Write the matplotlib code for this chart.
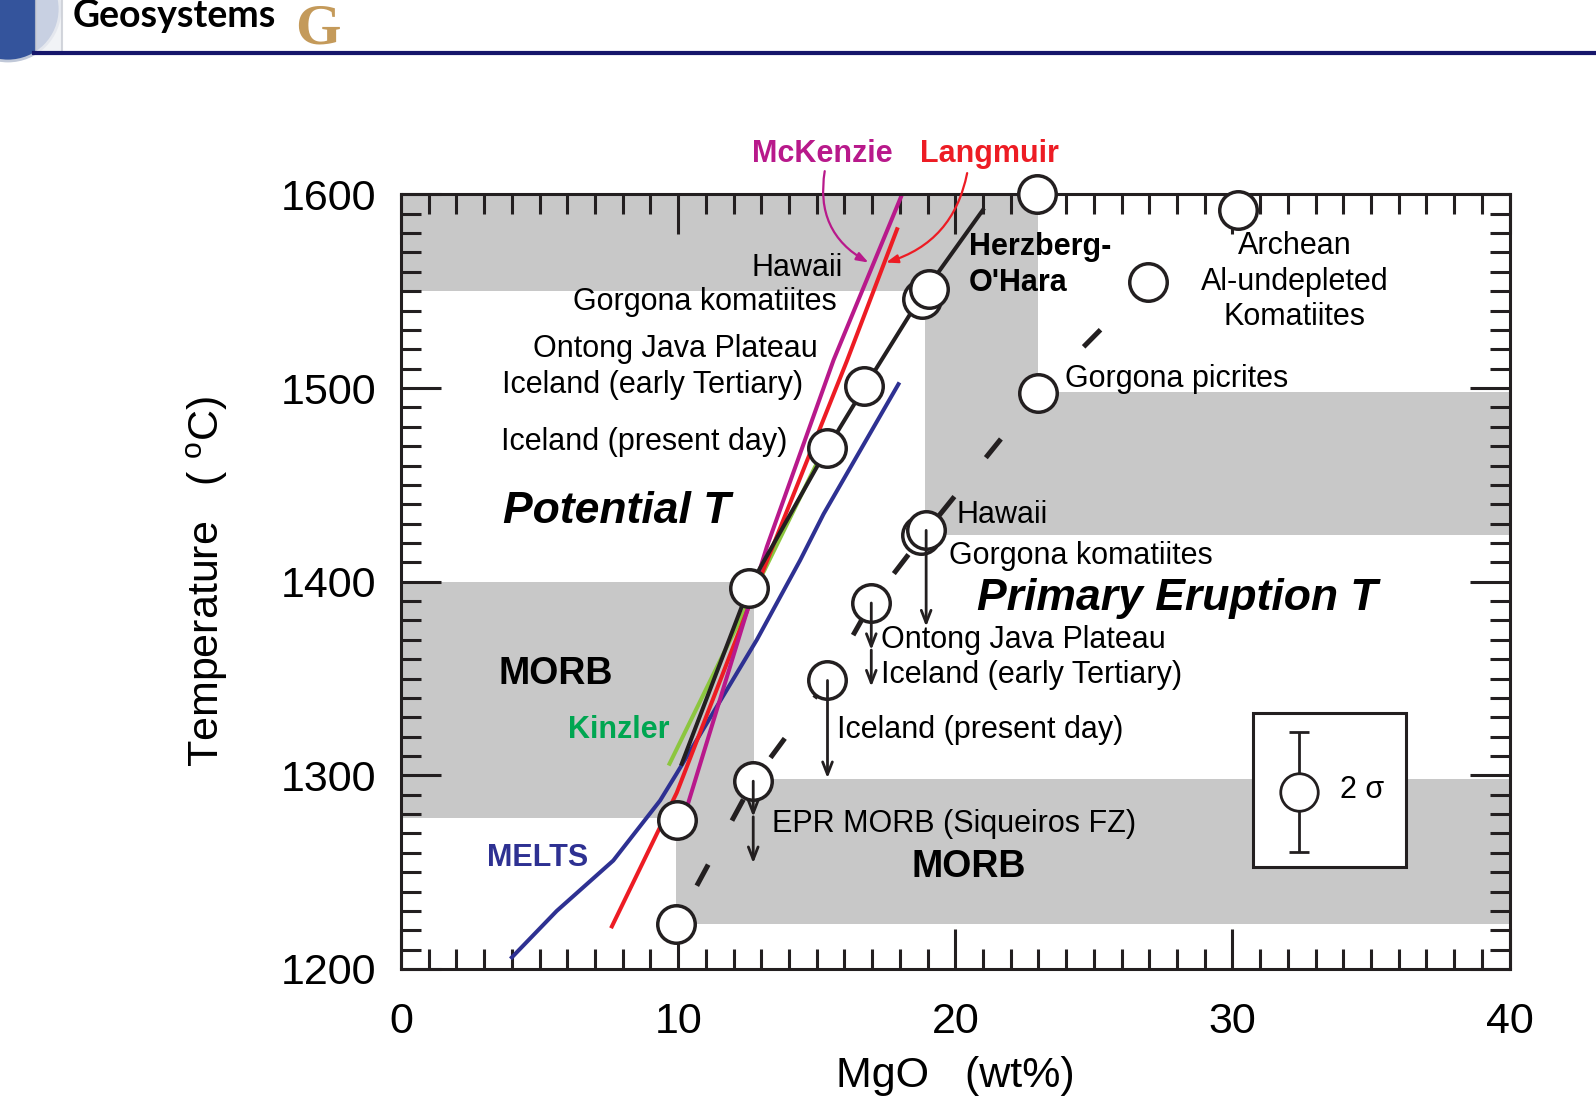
import matplotlib.pyplot as plt
import numpy as np
from matplotlib.patches import Rectangle, Circle
from matplotlib.lines import Line2D
from matplotlib.ticker import MultipleLocator

plt.rcParams['font.family'] = ['Liberation Sans', 'DejaVu Sans']
plt.rcParams['mathtext.fontset'] = 'custom'
plt.rcParams['mathtext.rm'] = 'Liberation Sans'
plt.rcParams['mathtext.it'] = 'Liberation Sans:italic'

# --- data ---
# potential temperature circles
pot_mgo = [9.95, 12.56, 15.39, 16.71, 18.8, 19.05, 22.96, 30.19]
pot_T = [1277, 1397, 1469, 1501, 1546, 1551, 1600, 1592]
# primary eruption temperature circles
prim_mgo = [9.92, 12.71, 15.39, 16.97, 18.77, 18.95, 22.99, 26.96]
prim_T = [1223, 1297, 1349, 1389, 1424, 1426.5, 1497.5, 1555]
# dashed trend through the primary magmas
dash_mgo = [9.92, 12.71, 15.39, 16.97, 18.9, 22.99, 26.96, 28.3]
dash_T = [1223, 1297, 1349, 1389, 1425, 1497.5, 1555, 1571]

# model curves
herz_mgo = [10.13, 12.56, 15.39, 16.71, 18.8, 21.0]
herz_T = [1306, 1397, 1469, 1500, 1548, 1592]
kinz_mgo = [9.69, 15.0]
kinz_T = [1306, 1461]
lang_mgo = [7.61, 9.95, 12.6, 16.09, 17.9]
lang_T = [1222, 1291, 1389, 1514, 1582]
mck_mgo = [10.37, 13.2, 15.61, 18.08]
mck_T = [1286, 1418, 1514.5, 1600]
melts_mgo = [4.0, 5.62, 7.66, 9.35, 9.95, 12.84, 14.4, 15.25, 17.95]
melts_T = [1206, 1230, 1256, 1287, 1301, 1370, 1411, 1435, 1502]

# fractionation-correction arrows (x, top, bottom, extra mid head or None)
arr_mgo = [12.71, 15.39, 16.97, 18.95]
arr_top = [1297, 1349, 1389, 1426.5]
arr_bot = [1254.6, 1298.5, 1345.8, 1376.8]
arr_mid = [1278.6, None, 1364.7, None]

# shaded fields (x0, x1, T0, T1)
fields = [
    (0, 23.0, 1550, 1600),
    (18.9, 23.0, 1424, 1550),
    (18.9, 40, 1424, 1498),
    (0, 12.75, 1278, 1400),
    (9.92, 40, 1223, 1298),
]

gray = '#c8c8c8'
c_mck = '#b8198b'
c_lang = '#ed1c24'
c_kinz = '#8cc63f'
c_kinz_txt = '#00a651'
c_melts = '#2e3192'
c_blk = '#231f20'

fig = plt.figure(figsize=(15.96, 10.99), dpi=100)
ax = fig.add_axes([401/1596, 1-969/1099, 1108.5/1596, 774.6/1099])

for x0, x1, t0, t1 in fields:
    ax.add_patch(Rectangle((x0, t0), x1-x0, t1-t0, facecolor=gray, edgecolor='none', zorder=0))

ax.plot(melts_mgo, melts_T, color=c_melts, lw=2.9, zorder=2)
ax.plot(kinz_mgo, kinz_T, color=c_kinz, lw=2.9, zorder=2)
ax.plot(lang_mgo, lang_T, color=c_lang, lw=2.9, zorder=2)
ax.plot(mck_mgo, mck_T, color=c_mck, lw=2.9, zorder=2)
ax.plot(herz_mgo, herz_T, color=c_blk, lw=2.9, zorder=2.1)
ax.plot(dash_mgo, dash_T, color=c_blk, lw=3.6, ls=(6, (4.8, 10)),
        solid_capstyle='butt', dash_capstyle='butt', zorder=2)

circ = dict(ls='none', marker='o', ms=27, mfc='white', mec=c_blk, mew=2.5, zorder=4, clip_on=False)
ax.plot(pot_mgo, pot_T, **circ)
ax.plot(prim_mgo, prim_T, **circ)

aprops = dict(arrowstyle='->,head_length=0.9,head_width=0.35', color=c_blk, lw=2.0,
              shrinkA=0, shrinkB=0)
for x, t0, t1, tm in zip(arr_mgo, arr_top, arr_bot, arr_mid):
    if tm is not None:
        ax.annotate('', xy=(x, tm), xytext=(x, t0), arrowprops=aprops, zorder=5)
        ax.annotate('', xy=(x, t1), xytext=(x, tm), arrowprops=aprops, zorder=5)
    else:
        ax.annotate('', xy=(x, t1), xytext=(x, t0), arrowprops=aprops, zorder=5)

# 2 sigma key
ax.add_patch(Rectangle((30.75, 1252.8), 5.53, 79.6, facecolor='white', edgecolor=c_blk,
                       lw=2.2, zorder=3))
ax.errorbar([32.4], [1291.6], yerr=[31], fmt='o', ms=27, mfc='white', mec=c_blk, mew=2.0,
            ecolor=c_blk, elinewidth=2.0, capsize=7, capthick=2.0, zorder=4)
ax.text(33.9, 1292.5, '2 σ', fontsize=22, va='center', ha='left', zorder=6)

# labels, potential T side
ft = 22
left_lbls = [
    (15.95, 1562, 'Hawaii'),
    (15.73, 1544.3, 'Gorgona komatiites'),
    (15.03, 1520, 'Ontong Java Plateau'),
    (14.52, 1501.7, 'Iceland (early Tertiary)'),
    (13.93, 1472.2, 'Iceland (present day)'),
]
for x, t, s in left_lbls:
    ax.text(x, t, s, fontsize=ft, ha='right', va='center', zorder=6)

right_lbls = [
    (23.96, 1504.8, 'Gorgona picrites'),
    (20.03, 1434.4, 'Hawaii'),
    (19.77, 1413.4, 'Gorgona komatiites'),
    (17.31, 1369.8, 'Ontong Java Plateau'),
    (17.31, 1351.9, 'Iceland (early Tertiary)'),
    (15.73, 1323.5, 'Iceland (present day)'),
    (13.38, 1275, 'EPR MORB (Siqueiros FZ)'),
]
for x, t, s in right_lbls:
    ax.text(x, t, s, fontsize=ft, ha='left', va='center', zorder=6)

ax.text(32.25, 1555, 'Archean\nAl-undepleted\nKomatiites', fontsize=ft, ha='center',
        va='center', linespacing=1.25, zorder=6)

ax.text(3.68, 1436.5, 'Potential T', fontsize=32, weight='bold', style='italic',
        ha='left', va='center', zorder=6)
ax.text(20.8, 1391.3, 'Primary Eruption T', fontsize=32, weight='bold', style='italic',
        ha='left', va='center', zorder=6)
ax.text(3.53, 1352.4, 'MORB', fontsize=27, weight='bold', ha='left', va='center', zorder=6)
ax.text(18.41, 1252.6, 'MORB', fontsize=27, weight='bold', ha='left', va='center', zorder=6)
ax.text(20.5, 1563.5, 'Herzberg-\nO\'Hara', fontsize=22, weight='bold', ha='left',
        va='center', linespacing=1.25, zorder=6)
ax.text(6.03, 1323.5, 'Kinzler', fontsize=22, weight='bold', color=c_kinz_txt,
        ha='left', va='center', zorder=6)
ax.text(3.09, 1257.3, 'MELTS', fontsize=22, weight='bold', color=c_melts,
        ha='left', va='center', zorder=6)
ax.text(12.68, 1621, 'McKenzie', fontsize=22, weight='bold', color=c_mck,
        ha='left', va='center', zorder=6)
ax.text(18.71, 1621, 'Langmuir', fontsize=22, weight='bold', color=c_lang,
        ha='left', va='center', zorder=6)

ax.annotate('', xy=(16.87, 1564.8), xytext=(15.29, 1612), annotation_clip=False,
            arrowprops=dict(arrowstyle='-|>,head_length=0.7,head_width=0.25', color=c_mck,
                            lw=1.6, shrinkA=0, shrinkB=0, connectionstyle='arc3,rad=0.35'))
ax.annotate('', xy=(17.5, 1564.8), xytext=(20.43, 1611), annotation_clip=False,
            arrowprops=dict(arrowstyle='-|>,head_length=0.7,head_width=0.25', color=c_lang,
                            lw=1.6, shrinkA=0, shrinkB=0, connectionstyle='arc3,rad=-0.3'))

# axes
ax.set_xlim(0, 40)
ax.set_ylim(1200, 1600)
ax.set_xticks([0, 10, 20, 30, 40])
ax.set_yticks([1200, 1300, 1400, 1500, 1600])
ax.xaxis.set_minor_locator(MultipleLocator(1))
ax.yaxis.set_minor_locator(MultipleLocator(10))
ax.tick_params(which='both', direction='in', top=True, right=True, width=2.2, color=c_blk)
ax.tick_params(which='major', length=29, labelsize=31)
ax.tick_params(which='minor', length=14.5)
ax.tick_params(axis='y', pad=18)
ax.tick_params(axis='x', pad=24)
for sp in ax.spines.values():
    sp.set_linewidth(2.2)
    sp.set_color(c_blk)
ax.set_xlabel('MgO   (wt%)', fontsize=31, labelpad=10)
ax.set_ylabel('Temperature   ( $^{\\mathrm{o}}$C)', fontsize=31, labelpad=36)

# journal header
fig.add_artist(Circle((0.08, 10.9), 0.52, transform=fig.dpi_scale_trans,
                      facecolor='#34549c', edgecolor='#c0c8d8', lw=2))
fig.add_artist(Rectangle((0.36, 10.45), 0.26, 0.6, transform=fig.dpi_scale_trans,
                         facecolor='#eef0f4', edgecolor='#c8ccd4', lw=1.5, alpha=0.8))
fig.text(73/1596, 1-27/1099, 'Geosystems', fontsize=27, weight='bold',
         family=['Lato', 'DejaVu Sans'], ha='left', va='baseline')
fig.text(295/1596, 1-43/1099, 'G', fontsize=42, weight='bold',
         family=['Liberation Serif', 'DejaVu Serif'],
         color='#c49a5a', ha='left', va='baseline')
fig.add_artist(Line2D([34/1596, 1], [1-53/1099, 1-53/1099], color='#16166b', lw=3))

fig.savefig('out.png', dpi=100)
